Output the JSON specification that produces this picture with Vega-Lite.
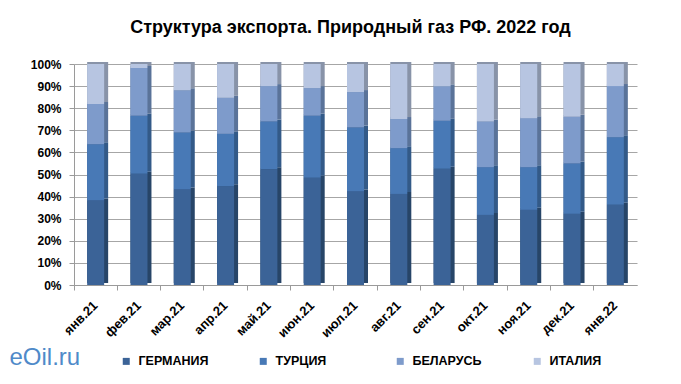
{
  "$schema": "https://vega.github.io/schema/vega-lite/v6.json",
  "autosize": {"type": "none"},
  "width": 563,
  "height": 221,
  "padding": {"left": 74, "top": 64, "right": 44, "bottom": 99},
  "background": "white",
  "title": {
    "text": "Структура экспорта. Природный газ РФ. 2022 год",
    "font": "Liberation Sans",
    "fontSize": 18,
    "fontWeight": "bold",
    "color": "#000000",
    "anchor": "middle",
    "dx": -5,
    "offset": 21
  },
  "data": {
    "values": [
      {"m": "янв.21", "c": "ГЕРМАНИЯ", "o": 1, "v": 38.2},
      {"m": "янв.21", "c": "ТУРЦИЯ", "o": 2, "v": 25.5},
      {"m": "янв.21", "c": "БЕЛАРУСЬ", "o": 3, "v": 18.2},
      {"m": "янв.21", "c": "ИТАЛИЯ", "o": 4, "v": 18.1},
      {"m": "фев.21", "c": "ГЕРМАНИЯ", "o": 1, "v": 50.3},
      {"m": "фев.21", "c": "ТУРЦИЯ", "o": 2, "v": 26.3},
      {"m": "фев.21", "c": "БЕЛАРУСЬ", "o": 3, "v": 21.6},
      {"m": "фев.21", "c": "ИТАЛИЯ", "o": 4, "v": 1.8},
      {"m": "мар.21", "c": "ГЕРМАНИЯ", "o": 1, "v": 43.2},
      {"m": "мар.21", "c": "ТУРЦИЯ", "o": 2, "v": 25.8},
      {"m": "мар.21", "c": "БЕЛАРУСЬ", "o": 3, "v": 19.1},
      {"m": "мар.21", "c": "ИТАЛИЯ", "o": 4, "v": 11.9},
      {"m": "апр.21", "c": "ГЕРМАНИЯ", "o": 1, "v": 44.7},
      {"m": "апр.21", "c": "ТУРЦИЯ", "o": 2, "v": 23.7},
      {"m": "апр.21", "c": "БЕЛАРУСЬ", "o": 3, "v": 16.3},
      {"m": "апр.21", "c": "ИТАЛИЯ", "o": 4, "v": 15.3},
      {"m": "май.21", "c": "ГЕРМАНИЯ", "o": 1, "v": 52.4},
      {"m": "май.21", "c": "ТУРЦИЯ", "o": 2, "v": 21.6},
      {"m": "май.21", "c": "БЕЛАРУСЬ", "o": 3, "v": 16.0},
      {"m": "май.21", "c": "ИТАЛИЯ", "o": 4, "v": 10.0},
      {"m": "июн.21", "c": "ГЕРМАНИЯ", "o": 1, "v": 48.5},
      {"m": "июн.21", "c": "ТУРЦИЯ", "o": 2, "v": 28.1},
      {"m": "июн.21", "c": "БЕЛАРУСЬ", "o": 3, "v": 12.5},
      {"m": "июн.21", "c": "ИТАЛИЯ", "o": 4, "v": 10.9},
      {"m": "июл.21", "c": "ГЕРМАНИЯ", "o": 1, "v": 42.3},
      {"m": "июл.21", "c": "ТУРЦИЯ", "o": 2, "v": 29.0},
      {"m": "июл.21", "c": "БЕЛАРУСЬ", "o": 3, "v": 16.0},
      {"m": "июл.21", "c": "ИТАЛИЯ", "o": 4, "v": 12.7},
      {"m": "авг.21", "c": "ГЕРМАНИЯ", "o": 1, "v": 41.2},
      {"m": "авг.21", "c": "ТУРЦИЯ", "o": 2, "v": 20.7},
      {"m": "авг.21", "c": "БЕЛАРУСЬ", "o": 3, "v": 13.2},
      {"m": "авг.21", "c": "ИТАЛИЯ", "o": 4, "v": 24.9},
      {"m": "сен.21", "c": "ГЕРМАНИЯ", "o": 1, "v": 52.6},
      {"m": "сен.21", "c": "ТУРЦИЯ", "o": 2, "v": 21.7},
      {"m": "сен.21", "c": "БЕЛАРУСЬ", "o": 3, "v": 15.6},
      {"m": "сен.21", "c": "ИТАЛИЯ", "o": 4, "v": 10.1},
      {"m": "окт.21", "c": "ГЕРМАНИЯ", "o": 1, "v": 31.7},
      {"m": "окт.21", "c": "ТУРЦИЯ", "o": 2, "v": 21.6},
      {"m": "окт.21", "c": "БЕЛАРУСЬ", "o": 3, "v": 20.7},
      {"m": "окт.21", "c": "ИТАЛИЯ", "o": 4, "v": 26.0},
      {"m": "ноя.21", "c": "ГЕРМАНИЯ", "o": 1, "v": 34.0},
      {"m": "ноя.21", "c": "ТУРЦИЯ", "o": 2, "v": 19.3},
      {"m": "ноя.21", "c": "БЕЛАРУСЬ", "o": 3, "v": 22.2},
      {"m": "ноя.21", "c": "ИТАЛИЯ", "o": 4, "v": 24.5},
      {"m": "дек.21", "c": "ГЕРМАНИЯ", "o": 1, "v": 32.2},
      {"m": "дек.21", "c": "ТУРЦИЯ", "o": 2, "v": 22.8},
      {"m": "дек.21", "c": "БЕЛАРУСЬ", "o": 3, "v": 21.1},
      {"m": "дек.21", "c": "ИТАЛИЯ", "o": 4, "v": 23.9},
      {"m": "янв.22", "c": "ГЕРМАНИЯ", "o": 1, "v": 36.3},
      {"m": "янв.22", "c": "ТУРЦИЯ", "o": 2, "v": 30.5},
      {"m": "янв.22", "c": "БЕЛАРУСЬ", "o": 3, "v": 23.2},
      {"m": "янв.22", "c": "ИТАЛИЯ", "o": 4, "v": 10.0}
    ]
  },
  "encoding": {
    "x": {
      "field": "m",
      "type": "nominal",
      "sort": null,
      "scale": {"paddingInner": 0, "paddingOuter": 0},
      "axis": {
        "title": "eOil.ru",
        "titleFont": "Liberation Sans",
        "titleFontSize": 24,
        "titleFontWeight": "normal",
        "titleColor": "#4f8ac9",
        "titleAnchor": "start",
        "titleAlign": "left",
        "titleBaseline": "alphabetic",
        "titleX": -65,
        "titleY": 79,
        "labelAngle": -45,
        "labelAlign": "right",
        "labelBaseline": "middle",
        "labelFont": "Liberation Sans",
        "labelFontSize": 13,
        "labelFontWeight": "bold",
        "labelColor": "#000000",
        "labelPadding": 13,
        "bandPosition": 0,
        "tickColor": "#9a9a9a",
        "tickSize": 5,
        "domainColor": "#9a9a9a",
        "grid": false
      }
    },
    "y": {
      "field": "v",
      "type": "quantitative",
      "aggregate": "sum",
      "stack": "normalize",
      "scale": {"domain": [0, 1]},
      "axis": {
        "title": null,
        "format": ".0%",
        "values": [0, 0.1, 0.2, 0.3, 0.4, 0.5, 0.6, 0.7, 0.8, 0.9, 1],
        "labelFont": "Liberation Sans",
        "labelFontSize": 12,
        "labelFontWeight": "bold",
        "labelColor": "#000000",
        "labelPadding": 8,
        "tickColor": "#9a9a9a",
        "tickSize": 5,
        "domainColor": "#9a9a9a",
        "grid": true,
        "gridColor": "#a6a6a6",
        "gridWidth": 1
      }
    },
    "order": {"field": "o", "type": "quantitative", "aggregate": "min"}
  },
  "layer": [
    {
      "mark": {"type": "bar", "size": 21, "xOffset": 2, "yOffset": -2},
      "encoding": {
        "fill": {
          "field": "c",
          "type": "nominal",
          "scale": {
            "domain": ["ГЕРМАНИЯ", "ТУРЦИЯ", "БЕЛАРУСЬ", "ИТАЛИЯ"],
            "range": ["#274568", "#335a88", "#5a7399", "#8893a8"]
          },
          "legend": null
        }
      }
    },
    {
      "mark": {"type": "bar", "size": 17},
      "encoding": {
        "color": {
          "field": "c",
          "type": "nominal",
          "scale": {
            "domain": ["ГЕРМАНИЯ", "ТУРЦИЯ", "БЕЛАРУСЬ", "ИТАЛИЯ"],
            "range": ["#3b6397", "#4879b6", "#7e9bcb", "#b7c5e1"]
          },
          "legend": {
            "title": null,
            "orient": "none",
            "direction": "horizontal",
            "legendX": 46,
            "legendY": 291,
            "symbolType": "square",
            "symbolSize": 49,
            "symbolStrokeWidth": 0,
            "labelFont": "Liberation Sans",
            "labelFontSize": 12.5,
            "labelFontWeight": "bold",
            "labelColor": "#000000",
            "labelOffset": 6,
            "gridAlign": "all",
            "columnPadding": 48
          }
        }
      }
    }
  ],
  "resolve": {"scale": {"fill": "independent", "color": "independent"}, "legend": {"fill": "independent", "color": "independent"}},
  "config": {
    "view": {"stroke": null}
  }
}
